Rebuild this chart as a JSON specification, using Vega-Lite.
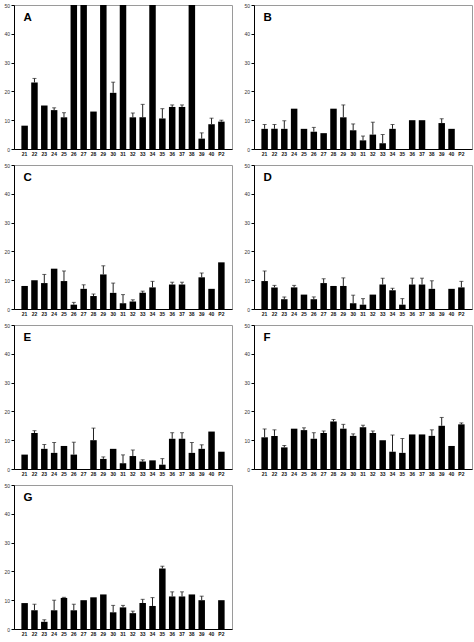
{
  "$schema": "https://vega.github.io/schema/vega-lite/v6.json",
  "padding": {"left": 3, "top": 2, "right": 0, "bottom": 0},
  "background": "white",
  "config": {
    "font": "Liberation Sans",
    "view": {"stroke": "#9a9a9a", "strokeWidth": 1},
    "axisX": {"labelAngle": 0, "labelFontSize": 5, "labelFontWeight": "bold", "labelColor": "#111", "ticks": false, "labelPadding": 2, "domainColor": "#000", "domainWidth": 1, "title": null},
    "axisY": {"grid": false, "labelFontSize": 5, "labelColor": "#333", "tickSize": 3, "tickColor": "#000", "labelPadding": 1.5, "domainColor": "#000", "domainWidth": 1, "labelOverlap": false, "title": null},
    "scale": {"bandPaddingInner": 0.34, "bandPaddingOuter": 0.75},
    "concat": {"spacing": 10}
  },
  "datasets": {"all": [
    {"p":"A","c":"21","v":8.1},
    {"p":"A","c":"22","v":23.1,"hi":24.5},
    {"p":"A","c":"23","v":15.1},
    {"p":"A","c":"24","v":13.5,"hi":14.3},
    {"p":"A","c":"25","v":11,"hi":12.6},
    {"p":"A","c":"26","v":50},
    {"p":"A","c":"27","v":50},
    {"p":"A","c":"28","v":13},
    {"p":"A","c":"29","v":50},
    {"p":"A","c":"30","v":19.5,"hi":23.2},
    {"p":"A","c":"31","v":50},
    {"p":"A","c":"32","v":11,"hi":12.5},
    {"p":"A","c":"33","v":11,"hi":15.5},
    {"p":"A","c":"34","v":50},
    {"p":"A","c":"35","v":10.6,"hi":14},
    {"p":"A","c":"36","v":14.6,"hi":15.3},
    {"p":"A","c":"37","v":14.6,"hi":15.3},
    {"p":"A","c":"38","v":50},
    {"p":"A","c":"39","v":3.6,"hi":5.6},
    {"p":"A","c":"40","v":8.6,"hi":10.7},
    {"p":"A","c":"P2","v":9.5,"hi":10},

    {"p":"B","c":"21","v":7,"hi":8.5},
    {"p":"B","c":"22","v":7,"hi":8.5},
    {"p":"B","c":"23","v":7,"hi":9.8},
    {"p":"B","c":"24","v":14},
    {"p":"B","c":"25","v":7},
    {"p":"B","c":"26","v":6,"hi":7.5},
    {"p":"B","c":"27","v":5.5},
    {"p":"B","c":"28","v":14},
    {"p":"B","c":"29","v":11,"hi":15.3},
    {"p":"B","c":"30","v":6.5,"hi":8.7},
    {"p":"B","c":"31","v":3,"hi":4.5},
    {"p":"B","c":"32","v":5,"hi":9.3},
    {"p":"B","c":"33","v":2,"hi":5},
    {"p":"B","c":"34","v":7,"hi":8.5},
    {"p":"B","c":"36","v":10},
    {"p":"B","c":"37","v":10},
    {"p":"B","c":"39","v":9,"hi":10.5},
    {"p":"B","c":"40","v":7},

    {"p":"C","c":"21","v":8},
    {"p":"C","c":"22","v":10},
    {"p":"C","c":"23","v":9,"hi":12},
    {"p":"C","c":"24","v":14},
    {"p":"C","c":"25","v":9.7,"hi":13.2},
    {"p":"C","c":"26","v":1.5,"hi":2.3},
    {"p":"C","c":"27","v":7,"hi":8.4},
    {"p":"C","c":"28","v":4.5,"hi":5.2},
    {"p":"C","c":"29","v":12,"hi":15},
    {"p":"C","c":"30","v":5.6,"hi":9},
    {"p":"C","c":"31","v":2,"hi":5},
    {"p":"C","c":"32","v":2.6,"hi":3.2},
    {"p":"C","c":"33","v":5.6,"hi":6.2},
    {"p":"C","c":"34","v":7.5,"hi":9.6},
    {"p":"C","c":"36","v":8.5,"hi":9.3},
    {"p":"C","c":"37","v":8.5,"hi":9.3},
    {"p":"C","c":"39","v":11,"hi":12.5},
    {"p":"C","c":"40","v":7},
    {"p":"C","c":"P2","v":16.2},

    {"p":"D","c":"21","v":9.7,"hi":13.2},
    {"p":"D","c":"22","v":7.5,"hi":8.2},
    {"p":"D","c":"23","v":3.4,"hi":4.2},
    {"p":"D","c":"24","v":7.5,"hi":8.2},
    {"p":"D","c":"25","v":5},
    {"p":"D","c":"26","v":3.4,"hi":4.2},
    {"p":"D","c":"27","v":9,"hi":10.5},
    {"p":"D","c":"28","v":8},
    {"p":"D","c":"29","v":8,"hi":10.8},
    {"p":"D","c":"30","v":2,"hi":4.8},
    {"p":"D","c":"31","v":1.5,"hi":3.6},
    {"p":"D","c":"32","v":5},
    {"p":"D","c":"33","v":8.5,"hi":10.7},
    {"p":"D","c":"34","v":6.5,"hi":7.2},
    {"p":"D","c":"35","v":1.5,"hi":3.6},
    {"p":"D","c":"36","v":8.5,"hi":10.7},
    {"p":"D","c":"37","v":8.5,"hi":10.7},
    {"p":"D","c":"38","v":7,"hi":9.8},
    {"p":"D","c":"40","v":7},
    {"p":"D","c":"P2","v":7.5,"hi":9.6},

    {"p":"E","c":"21","v":5},
    {"p":"E","c":"22","v":12.5,"hi":13.3},
    {"p":"E","c":"23","v":7,"hi":8.5},
    {"p":"E","c":"24","v":5.6,"hi":9.2},
    {"p":"E","c":"25","v":8},
    {"p":"E","c":"26","v":5,"hi":9.3},
    {"p":"E","c":"28","v":10,"hi":14.2},
    {"p":"E","c":"29","v":3.5,"hi":4.2},
    {"p":"E","c":"30","v":7},
    {"p":"E","c":"31","v":2,"hi":4.9},
    {"p":"E","c":"32","v":4.5,"hi":6.6},
    {"p":"E","c":"33","v":2.6,"hi":3.2},
    {"p":"E","c":"34","v":3},
    {"p":"E","c":"35","v":1.5,"hi":3.6},
    {"p":"E","c":"36","v":10.5,"hi":12.6},
    {"p":"E","c":"37","v":10.5,"hi":12.6},
    {"p":"E","c":"38","v":5.6,"hi":9.2},
    {"p":"E","c":"39","v":7,"hi":8.4},
    {"p":"E","c":"40","v":13},
    {"p":"E","c":"P2","v":6},

    {"p":"F","c":"21","v":11,"hi":13.9},
    {"p":"F","c":"22","v":11.5,"hi":13.6},
    {"p":"F","c":"23","v":7.5,"hi":8.2},
    {"p":"F","c":"24","v":14},
    {"p":"F","c":"25","v":13.5,"hi":14.3},
    {"p":"F","c":"26","v":10.5,"hi":12.6},
    {"p":"F","c":"27","v":12.5,"hi":13.2},
    {"p":"F","c":"28","v":16.5,"hi":17.2},
    {"p":"F","c":"29","v":14,"hi":15.5},
    {"p":"F","c":"30","v":11.5,"hi":12.2},
    {"p":"F","c":"31","v":14.5,"hi":15.2},
    {"p":"F","c":"32","v":12.5,"hi":13.2},
    {"p":"F","c":"33","v":10},
    {"p":"F","c":"34","v":6,"hi":11.8},
    {"p":"F","c":"35","v":5.6,"hi":10.6},
    {"p":"F","c":"36","v":12},
    {"p":"F","c":"37","v":12},
    {"p":"F","c":"38","v":11.5,"hi":13.6},
    {"p":"F","c":"39","v":15,"hi":17.9},
    {"p":"F","c":"40","v":8},
    {"p":"F","c":"P2","v":15.5,"hi":16},

    {"p":"G","c":"21","v":9},
    {"p":"G","c":"22","v":6.5,"hi":8.6},
    {"p":"G","c":"23","v":2.5,"hi":3.2},
    {"p":"G","c":"24","v":6.5,"hi":10},
    {"p":"G","c":"25","v":10.8,"hi":11},
    {"p":"G","c":"26","v":6.5,"hi":8.6},
    {"p":"G","c":"27","v":10},
    {"p":"G","c":"28","v":11},
    {"p":"G","c":"29","v":12},
    {"p":"G","c":"30","v":5.8,"hi":8.2},
    {"p":"G","c":"31","v":7.5,"hi":8.2},
    {"p":"G","c":"32","v":5.5,"hi":6.2},
    {"p":"G","c":"33","v":9,"hi":10.3},
    {"p":"G","c":"34","v":8,"hi":10.9},
    {"p":"G","c":"35","v":21,"hi":21.8},
    {"p":"G","c":"36","v":11.3,"hi":12.9},
    {"p":"G","c":"37","v":11.3,"hi":12.9},
    {"p":"G","c":"38","v":12},
    {"p":"G","c":"39","v":10,"hi":11.4},
    {"p":"G","c":"P2","v":10}
  ]},
  "data": {"name": "all"},
  "spacing": 5,
  "vconcat": [
    {"hconcat": [
      {"width": 218, "height": 144, "transform": [{"filter": "datum.p == 'A'"}],
       "encoding": {"x": {"field": "c", "type": "nominal", "scale": {"domain": ["21","22","23","24","25","26","27","28","29","30","31","32","33","34","35","36","37","38","39","40","P2"]}}},
       "layer": [
        {"mark": {"type": "bar", "color": "#000", "clip": true}, "encoding": {"y": {"field": "v", "type": "quantitative", "scale": {"domain": [0, 50], "nice": false}, "axis": {"values": [0,10,20,30,40,50], "labelOverlap": false}}}},
        {"transform": [{"filter": "isValid(datum.hi)"}], "mark": {"type": "rule", "color": "#222", "strokeWidth": 1}, "encoding": {"y": {"field": "v", "type": "quantitative", "axis": {"values": [0,10,20,30,40,50], "labelOverlap": false}}, "y2": {"field": "hi"}}},
        {"transform": [{"filter": "isValid(datum.hi)"}], "mark": {"type": "tick", "color": "#222", "size": 4, "thickness": 1}, "encoding": {"y": {"field": "hi", "type": "quantitative", "axis": {"values": [0,10,20,30,40,50], "labelOverlap": false}}}},
        {"transform": [{"filter": "datum.c == '21'"}], "mark": {"type": "text", "fontSize": 11.5, "fontWeight": "bold", "align": "left", "baseline": "alphabetic", "dx": -1, "color": "#000"}, "encoding": {"y": {"datum": 44.3, "type": "quantitative", "axis": {"values": [0,10,20,30,40,50], "labelOverlap": false}}, "text": {"field": "p"}}}
       ]},
      {"width": 218, "height": 144, "transform": [{"filter": "datum.p == 'B'"}],
       "encoding": {"x": {"field": "c", "type": "nominal", "scale": {"domain": ["21","22","23","24","25","26","27","28","29","30","31","32","33","34","35","36","37","38","39","40","P2"]}}},
       "layer": [
        {"mark": {"type": "bar", "color": "#000", "clip": true}, "encoding": {"y": {"field": "v", "type": "quantitative", "scale": {"domain": [0, 50], "nice": false}, "axis": {"values": [0,10,20,30,40,50], "labelOverlap": false}}}},
        {"transform": [{"filter": "isValid(datum.hi)"}], "mark": {"type": "rule", "color": "#222", "strokeWidth": 1}, "encoding": {"y": {"field": "v", "type": "quantitative", "axis": {"values": [0,10,20,30,40,50], "labelOverlap": false}}, "y2": {"field": "hi"}}},
        {"transform": [{"filter": "isValid(datum.hi)"}], "mark": {"type": "tick", "color": "#222", "size": 4, "thickness": 1}, "encoding": {"y": {"field": "hi", "type": "quantitative", "axis": {"values": [0,10,20,30,40,50], "labelOverlap": false}}}},
        {"transform": [{"filter": "datum.c == '21'"}], "mark": {"type": "text", "fontSize": 11.5, "fontWeight": "bold", "align": "left", "baseline": "alphabetic", "dx": -1, "color": "#000"}, "encoding": {"y": {"datum": 44.3, "type": "quantitative", "axis": {"values": [0,10,20,30,40,50], "labelOverlap": false}}, "text": {"field": "p"}}}
       ]}
    ]},
    {"hconcat": [
      {"width": 218, "height": 144, "transform": [{"filter": "datum.p == 'C'"}],
       "encoding": {"x": {"field": "c", "type": "nominal", "scale": {"domain": ["21","22","23","24","25","26","27","28","29","30","31","32","33","34","35","36","37","38","39","40","P2"]}}},
       "layer": [
        {"mark": {"type": "bar", "color": "#000", "clip": true}, "encoding": {"y": {"field": "v", "type": "quantitative", "scale": {"domain": [0, 50], "nice": false}, "axis": {"values": [0,10,20,30,40,50], "labelOverlap": false}}}},
        {"transform": [{"filter": "isValid(datum.hi)"}], "mark": {"type": "rule", "color": "#222", "strokeWidth": 1}, "encoding": {"y": {"field": "v", "type": "quantitative", "axis": {"values": [0,10,20,30,40,50], "labelOverlap": false}}, "y2": {"field": "hi"}}},
        {"transform": [{"filter": "isValid(datum.hi)"}], "mark": {"type": "tick", "color": "#222", "size": 4, "thickness": 1}, "encoding": {"y": {"field": "hi", "type": "quantitative", "axis": {"values": [0,10,20,30,40,50], "labelOverlap": false}}}},
        {"transform": [{"filter": "datum.c == '21'"}], "mark": {"type": "text", "fontSize": 11.5, "fontWeight": "bold", "align": "left", "baseline": "alphabetic", "dx": -1, "color": "#000"}, "encoding": {"y": {"datum": 44.3, "type": "quantitative", "axis": {"values": [0,10,20,30,40,50], "labelOverlap": false}}, "text": {"field": "p"}}}
       ]},
      {"width": 218, "height": 144, "transform": [{"filter": "datum.p == 'D'"}],
       "encoding": {"x": {"field": "c", "type": "nominal", "scale": {"domain": ["21","22","23","24","25","26","27","28","29","30","31","32","33","34","35","36","37","38","39","40","P2"]}}},
       "layer": [
        {"mark": {"type": "bar", "color": "#000", "clip": true}, "encoding": {"y": {"field": "v", "type": "quantitative", "scale": {"domain": [0, 50], "nice": false}, "axis": {"values": [0,10,20,30,40,50], "labelOverlap": false}}}},
        {"transform": [{"filter": "isValid(datum.hi)"}], "mark": {"type": "rule", "color": "#222", "strokeWidth": 1}, "encoding": {"y": {"field": "v", "type": "quantitative", "axis": {"values": [0,10,20,30,40,50], "labelOverlap": false}}, "y2": {"field": "hi"}}},
        {"transform": [{"filter": "isValid(datum.hi)"}], "mark": {"type": "tick", "color": "#222", "size": 4, "thickness": 1}, "encoding": {"y": {"field": "hi", "type": "quantitative", "axis": {"values": [0,10,20,30,40,50], "labelOverlap": false}}}},
        {"transform": [{"filter": "datum.c == '21'"}], "mark": {"type": "text", "fontSize": 11.5, "fontWeight": "bold", "align": "left", "baseline": "alphabetic", "dx": -1, "color": "#000"}, "encoding": {"y": {"datum": 44.3, "type": "quantitative", "axis": {"values": [0,10,20,30,40,50], "labelOverlap": false}}, "text": {"field": "p"}}}
       ]}
    ]},
    {"hconcat": [
      {"width": 218, "height": 144, "transform": [{"filter": "datum.p == 'E'"}],
       "encoding": {"x": {"field": "c", "type": "nominal", "scale": {"domain": ["21","22","23","24","25","26","27","28","29","30","31","32","33","34","35","36","37","38","39","40","P2"]}}},
       "layer": [
        {"mark": {"type": "bar", "color": "#000", "clip": true}, "encoding": {"y": {"field": "v", "type": "quantitative", "scale": {"domain": [0, 50], "nice": false}, "axis": {"values": [0,10,20,30,40,50], "labelOverlap": false}}}},
        {"transform": [{"filter": "isValid(datum.hi)"}], "mark": {"type": "rule", "color": "#222", "strokeWidth": 1}, "encoding": {"y": {"field": "v", "type": "quantitative", "axis": {"values": [0,10,20,30,40,50], "labelOverlap": false}}, "y2": {"field": "hi"}}},
        {"transform": [{"filter": "isValid(datum.hi)"}], "mark": {"type": "tick", "color": "#222", "size": 4, "thickness": 1}, "encoding": {"y": {"field": "hi", "type": "quantitative", "axis": {"values": [0,10,20,30,40,50], "labelOverlap": false}}}},
        {"transform": [{"filter": "datum.c == '21'"}], "mark": {"type": "text", "fontSize": 11.5, "fontWeight": "bold", "align": "left", "baseline": "alphabetic", "dx": -1, "color": "#000"}, "encoding": {"y": {"datum": 44.3, "type": "quantitative", "axis": {"values": [0,10,20,30,40,50], "labelOverlap": false}}, "text": {"field": "p"}}}
       ]},
      {"width": 218, "height": 144, "transform": [{"filter": "datum.p == 'F'"}],
       "encoding": {"x": {"field": "c", "type": "nominal", "scale": {"domain": ["21","22","23","24","25","26","27","28","29","30","31","32","33","34","35","36","37","38","39","40","P2"]}}},
       "layer": [
        {"mark": {"type": "bar", "color": "#000", "clip": true}, "encoding": {"y": {"field": "v", "type": "quantitative", "scale": {"domain": [0, 50], "nice": false}, "axis": {"values": [0,10,20,30,40,50], "labelOverlap": false}}}},
        {"transform": [{"filter": "isValid(datum.hi)"}], "mark": {"type": "rule", "color": "#222", "strokeWidth": 1}, "encoding": {"y": {"field": "v", "type": "quantitative", "axis": {"values": [0,10,20,30,40,50], "labelOverlap": false}}, "y2": {"field": "hi"}}},
        {"transform": [{"filter": "isValid(datum.hi)"}], "mark": {"type": "tick", "color": "#222", "size": 4, "thickness": 1}, "encoding": {"y": {"field": "hi", "type": "quantitative", "axis": {"values": [0,10,20,30,40,50], "labelOverlap": false}}}},
        {"transform": [{"filter": "datum.c == '21'"}], "mark": {"type": "text", "fontSize": 11.5, "fontWeight": "bold", "align": "left", "baseline": "alphabetic", "dx": -1, "color": "#000"}, "encoding": {"y": {"datum": 44.3, "type": "quantitative", "axis": {"values": [0,10,20,30,40,50], "labelOverlap": false}}, "text": {"field": "p"}}}
       ]}
    ]},
    {"hconcat": [
      {"width": 218, "height": 144, "transform": [{"filter": "datum.p == 'G'"}],
       "encoding": {"x": {"field": "c", "type": "nominal", "scale": {"domain": ["21","22","23","24","25","26","27","28","29","30","31","32","33","34","35","36","37","38","39","40","P2"]}}},
       "layer": [
        {"mark": {"type": "bar", "color": "#000", "clip": true}, "encoding": {"y": {"field": "v", "type": "quantitative", "scale": {"domain": [0, 50], "nice": false}, "axis": {"values": [0,10,20,30,40,50], "labelOverlap": false}}}},
        {"transform": [{"filter": "isValid(datum.hi)"}], "mark": {"type": "rule", "color": "#222", "strokeWidth": 1}, "encoding": {"y": {"field": "v", "type": "quantitative", "axis": {"values": [0,10,20,30,40,50], "labelOverlap": false}}, "y2": {"field": "hi"}}},
        {"transform": [{"filter": "isValid(datum.hi)"}], "mark": {"type": "tick", "color": "#222", "size": 4, "thickness": 1}, "encoding": {"y": {"field": "hi", "type": "quantitative", "axis": {"values": [0,10,20,30,40,50], "labelOverlap": false}}}},
        {"transform": [{"filter": "datum.c == '21'"}], "mark": {"type": "text", "fontSize": 11.5, "fontWeight": "bold", "align": "left", "baseline": "alphabetic", "dx": -1, "color": "#000"}, "encoding": {"y": {"datum": 44.3, "type": "quantitative", "axis": {"values": [0,10,20,30,40,50], "labelOverlap": false}}, "text": {"field": "p"}}}
       ]}
    ]}
  ]
}
